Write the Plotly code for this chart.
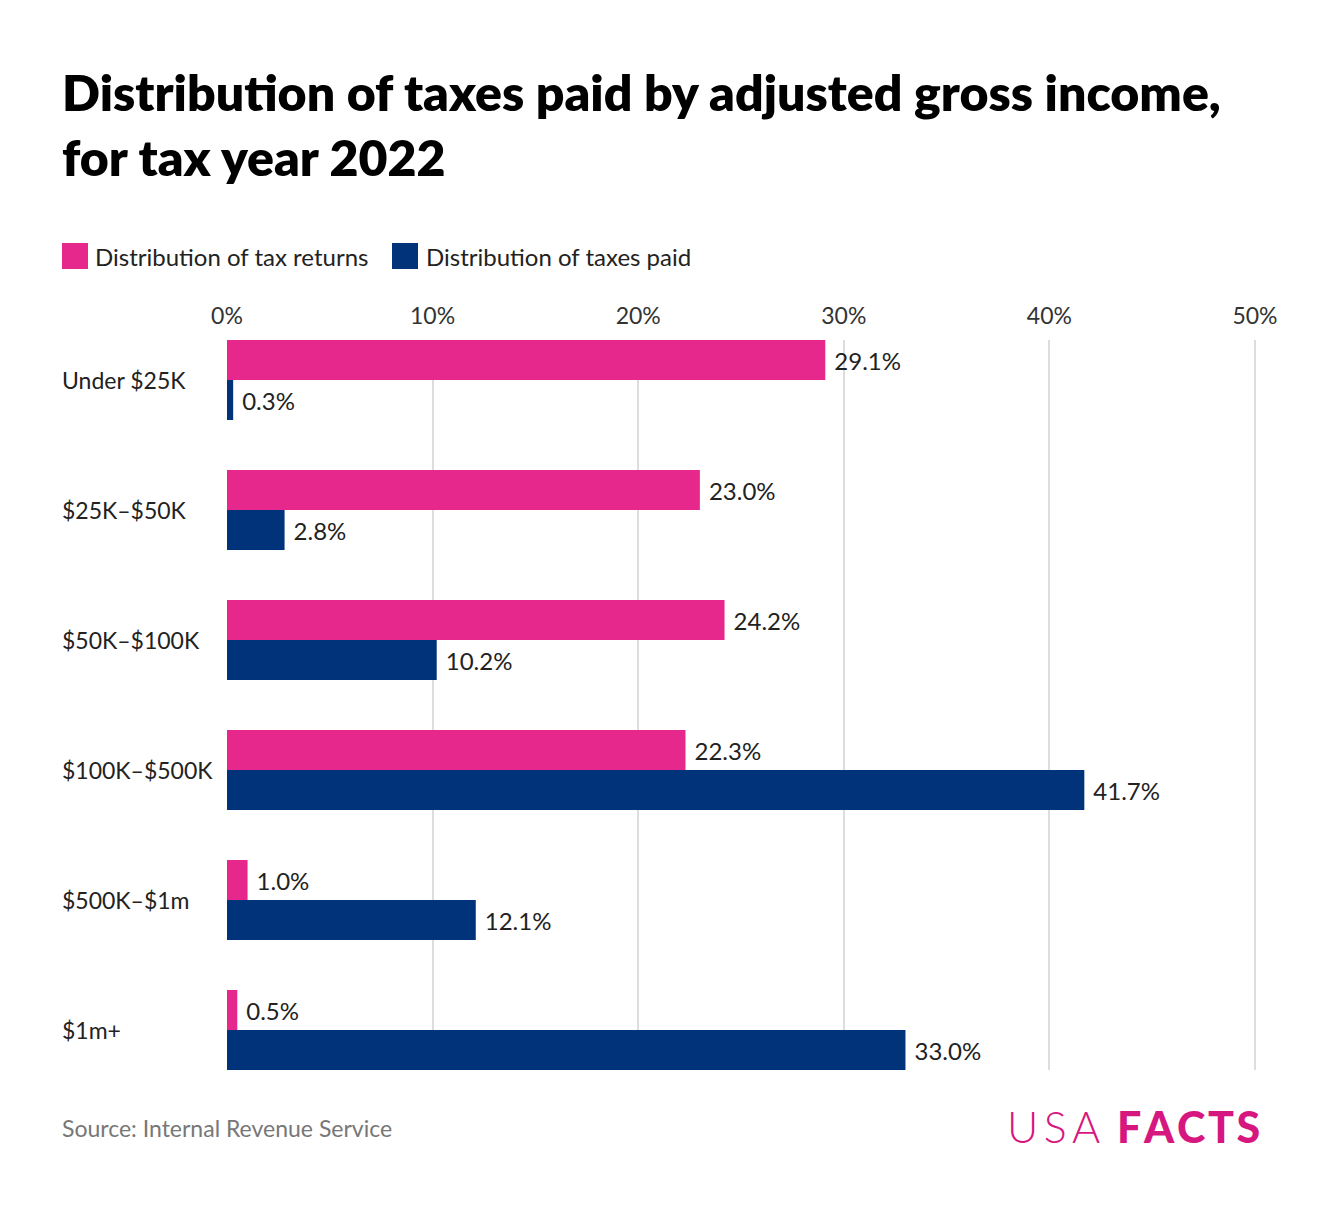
import plotly.graph_objects as go

categories = ["Under $25K", "$25K–$50K", "$50K–$100K", "$100K–$500K", "$500K–$1m", "$1m+"]
tax_returns = [29.1, 23.0, 24.2, 22.3, 1.0, 0.5]
taxes_paid = [0.3, 2.8, 10.2, 41.7, 12.1, 33.0]
tick_vals = [0, 10, 20, 30, 40, 50]
tick_text = ["0%", "10%", "20%", "30%", "40%", "50%"]

PINK = "#E6288C"
NAVY = "#00337A"
FONT = "Lato"
GAP = "\u2009\u2009"

W, H = 1320, 1206
L, R, T, B = 227, 1256, 340, 1070


def px(x):
    return (x - L) / (R - L)


def py(y):
    return (B - y) / (B - T)


fig = go.Figure()
fig.add_trace(go.Bar(
    y=categories, x=tax_returns, orientation="h", name="Distribution of tax returns",
    marker=dict(color=PINK, line=dict(width=0)),
    text=[f"{GAP}{v:.1f}%" for v in tax_returns], textposition="outside",
    textfont=dict(family=FONT, size=24, color="#222222"), cliponaxis=False,
))
fig.add_trace(go.Bar(
    y=categories, x=taxes_paid, orientation="h", name="Distribution of taxes paid",
    marker=dict(color=NAVY, line=dict(width=0)),
    text=[f"{GAP}{v:.1f}%" for v in taxes_paid], textposition="outside",
    textfont=dict(family=FONT, size=24, color="#222222"), cliponaxis=False,
))

annotations = [
    dict(text="Distribution of taxes paid by adjusted gross income,<br>for tax year 2022",
         x=px(60), y=py(60), xref="paper", yref="paper", xanchor="left", yanchor="top",
         align="left", showarrow=False,
         font=dict(family=FONT, size=50, color="#000000", weight=800)),
    dict(text="Distribution of tax returns", x=px(93), y=py(256), xref="paper", yref="paper",
         xanchor="left", yanchor="middle", showarrow=False,
         font=dict(family=FONT, size=24, color="#222222")),
    dict(text="Distribution of taxes paid", x=px(424), y=py(256), xref="paper", yref="paper",
         xanchor="left", yanchor="middle", showarrow=False,
         font=dict(family=FONT, size=24, color="#222222")),
    dict(text="Source: Internal Revenue Service", x=px(60), y=py(1128), xref="paper", yref="paper",
         xanchor="left", yanchor="middle", showarrow=False,
         font=dict(family=FONT, size=23, color="#777777")),
    dict(text="U\u2009S\u2009A", x=px(1005), y=py(1126), xref="paper", yref="paper",
         xanchor="left", yanchor="middle", showarrow=False,
         font=dict(family=FONT, size=43, color="#D6177F", weight=300)),
    dict(text="F\u200aA\u200aC\u200aT\u200aS", x=px(1262), y=py(1126), xref="paper", yref="paper",
         xanchor="right", yanchor="middle", showarrow=False,
         font=dict(family=FONT, size=43, color="#D6177F", weight=900)),
]
for c in categories:
    annotations.append(dict(text=c, x=px(60), y=c, xref="paper", yref="y",
                            xanchor="left", yanchor="middle", showarrow=False,
                            font=dict(family=FONT, size=23, color="#222222")))

shapes = [
    dict(type="rect", xref="paper", yref="paper", x0=px(62), x1=px(88), y0=py(269), y1=py(243),
         fillcolor=PINK, line=dict(width=0)),
    dict(type="rect", xref="paper", yref="paper", x0=px(392), x1=px(418), y0=py(269), y1=py(243),
         fillcolor=NAVY, line=dict(width=0)),
]

fig.update_layout(
    width=W, height=H,
    margin=dict(l=L, r=W - R, t=T, b=H - B, pad=0),
    paper_bgcolor="white", plot_bgcolor="white",
    barmode="group", bargap=50 / 130, bargroupgap=0,
    showlegend=False,
    annotations=annotations, shapes=shapes,
    font=dict(family=FONT),
    xaxis=dict(side="top", range=[0, 50.05], tickvals=tick_vals, ticktext=tick_text,
               showgrid=True, gridcolor="#DDDDDD", gridwidth=1.5, zeroline=False,
               showline=False, ticks="", ticklabelstandoff=10,
               tickfont=dict(family=FONT, size=23, color="#333333"), fixedrange=True),
    yaxis=dict(type="category", range=[5 + 40 / 130, -40 / 130], showticklabels=False,
               showgrid=False, zeroline=False, showline=False, ticks=""),
)

fig.write_html("out.html")
